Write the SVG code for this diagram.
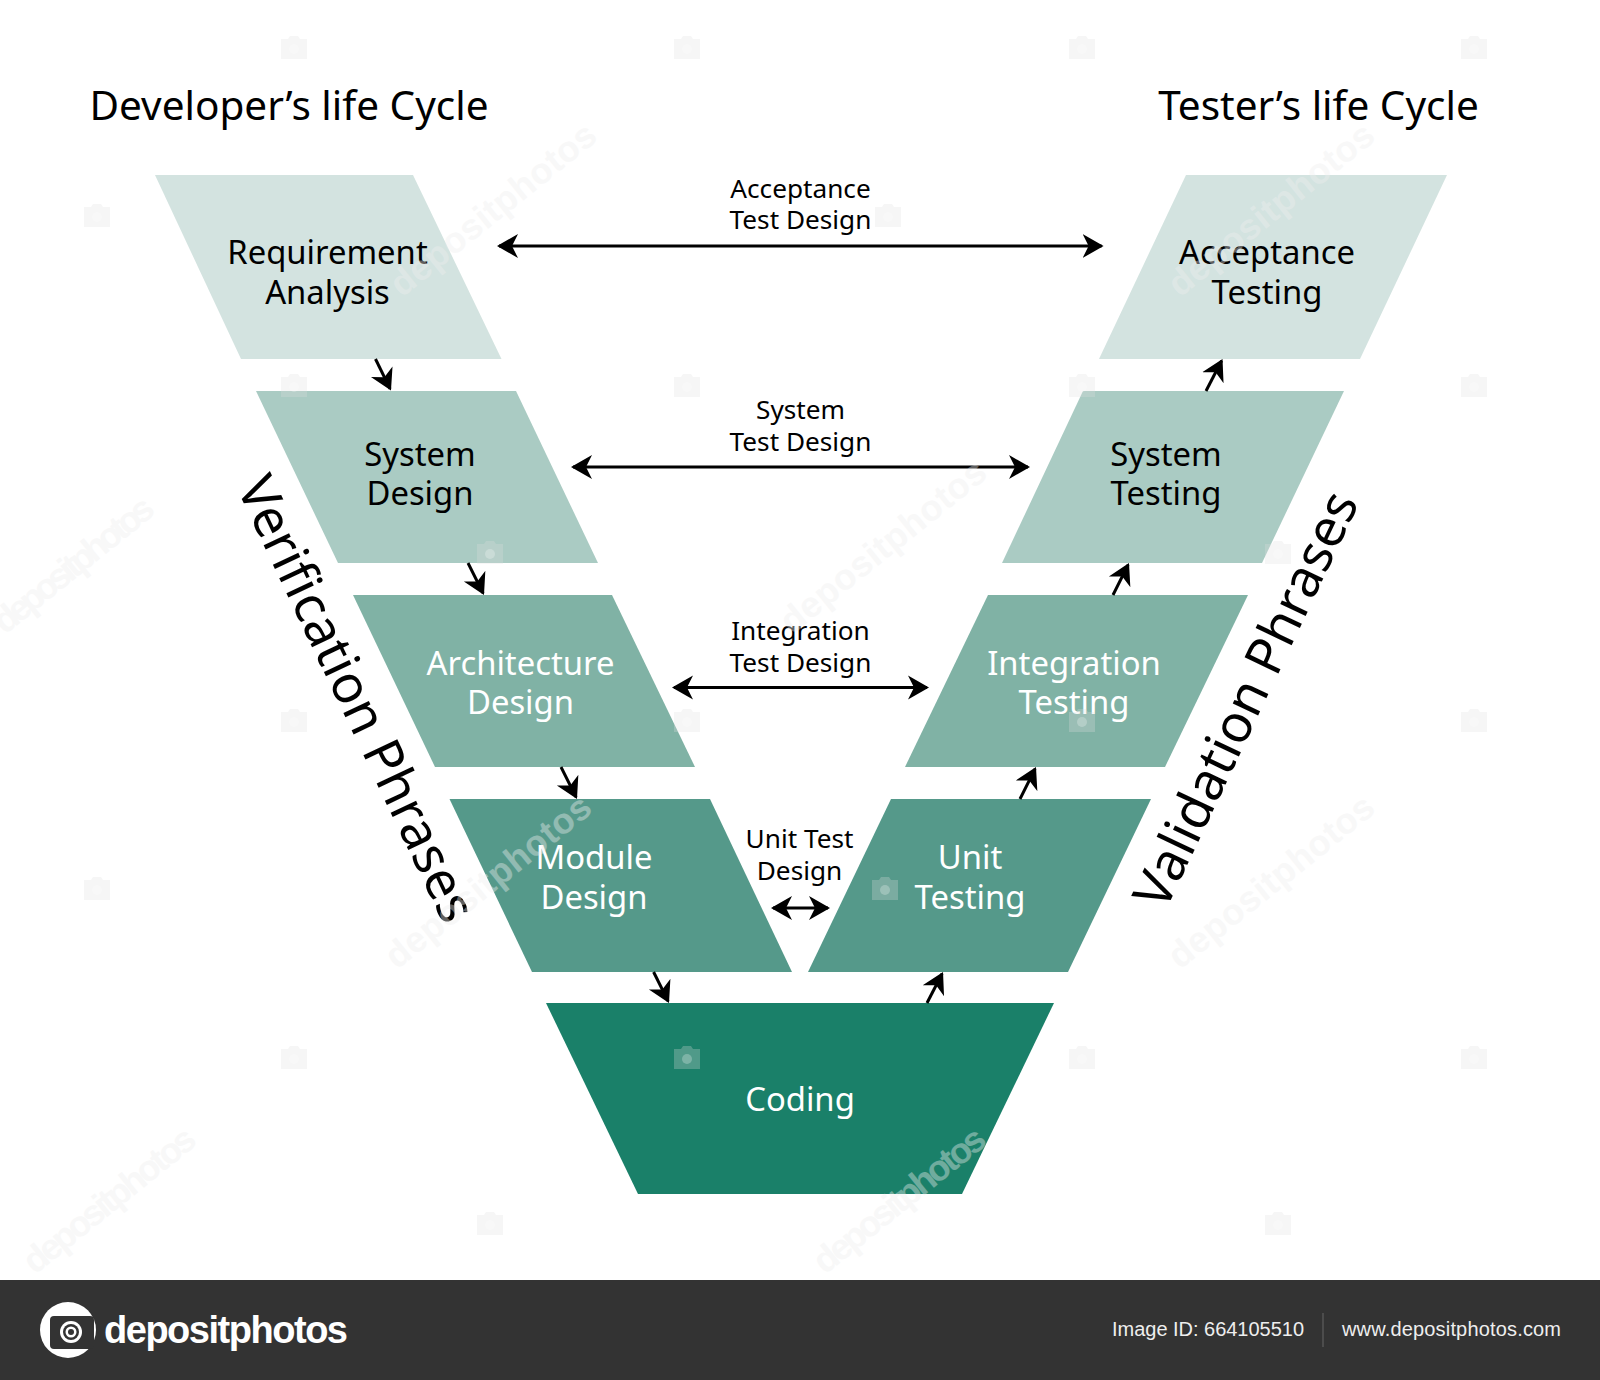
<svg xmlns="http://www.w3.org/2000/svg" xmlns:xlink="http://www.w3.org/1999/xlink" width="1600" height="1380" viewBox="0 0 1600 1380">
<style>
text{font-family:"Noto Sans","DejaVu Sans",sans-serif;text-anchor:middle}
.title{font-size:40.5px;fill:#000}
.lbl{font-size:32.8px}
.d{fill:#000}.w{fill:#fff}
.sub{font-size:26.2px;fill:#000}
.side{font-size:52.5px;fill:#000;text-anchor:start}
.arr{stroke:#000;stroke-width:3;fill:none;marker-end:url(#ah)}
.dbl{marker-start:url(#ah)}
.wm{font-family:"Liberation Sans",sans-serif;font-size:36px;font-weight:700;fill:#eee;opacity:.4;text-anchor:start}
.ban{font-family:"Liberation Sans",sans-serif;font-size:20px;fill:#eee;text-anchor:start}
</style>
<defs>
<marker id="ah" markerUnits="userSpaceOnUse" markerWidth="22" markerHeight="26" viewBox="0 0 22 26" refX="19" refY="13" orient="auto-start-reverse">
<path d="M21,13 L0,1 L6,13 L0,25 Z" fill="#000"/>
</marker>
<g id="cam"><path d="M-13,-10h7l2,-3h8l2,3h7v20h-26z" fill="#ddd" opacity=".28"/><circle r="5" fill="#fff" opacity=".25"/></g>
</defs>
<rect width="1600" height="1380" fill="#fff"/>
<g id="req"><polygon points="155,175 413,175 501.5,359 241,359" fill="#d3e3e0"/><text class="lbl d" x="327.500" y="264">Requirement</text><text class="lbl d" x="327.500" y="303.500">Analysis</text></g>
<g id="sysd"><polygon points="256,391 516,391 598,563 338,563" fill="#aacbc3"/><text class="lbl d" x="420" y="466">System</text><text class="lbl d" x="420" y="505">Design</text></g>
<g id="arch"><polygon points="353,595 612,595 695,767 435,767" fill="#80b2a5"/><text class="lbl w" x="520.500" y="675">Architecture</text><text class="lbl w" x="520.500" y="714">Design</text></g>
<g id="mod"><polygon points="449.500,799 710,799 792,972 532,972" fill="#55998a"/><text class="lbl w" x="594" y="869">Module</text><text class="lbl w" x="594" y="909">Design</text></g>
<g id="coding"><polygon points="546,1003 1054,1003 962,1194 638,1194" fill="#1a8069"/><text class="lbl w" x="800" y="1110.700">Coding</text></g>
<g id="unit"><polygon points="891,799 1151,799 1068,972 808,972" fill="#55998a"/><text class="lbl w" x="970" y="869">Unit</text><text class="lbl w" x="970" y="909">Testing</text></g>
<g id="integ"><polygon points="988,595 1248,595 1165,767 905,767" fill="#80b2a5"/><text class="lbl w" x="1074" y="675">Integration</text><text class="lbl w" x="1074" y="714">Testing</text></g>
<g id="syst"><polygon points="1083,391 1344,391 1262,563 1002,563" fill="#aacbc3"/><text class="lbl d" x="1166" y="466">System</text><text class="lbl d" x="1166" y="505">Testing</text></g>
<g id="acc"><polygon points="1186,175 1447,175 1360,359 1099,359" fill="#d3e3e0"/><text class="lbl d" x="1267" y="264">Acceptance</text><text class="lbl d" x="1267" y="303.500">Testing</text></g>
<g id="connectors">
<path class="arr dbl" d="M499,246H1101.600"/>
<path class="arr dbl" d="M573,467H1028"/>
<path class="arr dbl" d="M674,687.500H927"/>
<path class="arr dbl" d="M773,908H828"/>
<path class="arr" d="M375.500,359L390.100,388.800"/>
<path class="arr" d="M468,563L483.100,593.200"/>
<path class="arr" d="M561,767L576.100,797.200"/>
<path class="arr" d="M653.600,972L668.100,1001.200"/>
<path class="arr" d="M927,1003L942.100,973.800"/>
<path class="arr" d="M1020,799L1035.100,768.800"/>
<path class="arr" d="M1113,595L1128.100,564.800"/>
<path class="arr" d="M1206,391L1221.600,360.800"/>
</g>
<g id="labels">
<text class="title" x="289" y="119.600">Developer’s life Cycle</text>
<text class="title" x="1318.500" y="119.600">Tester’s life Cycle</text>
<text class="sub" x="800.500" y="197.700">Acceptance</text><text class="sub" x="800.500" y="228.800">Test Design</text>
<text class="sub" x="800.500" y="419">System</text><text class="sub" x="800.500" y="451">Test Design</text>
<text class="sub" x="800.500" y="640">Integration</text><text class="sub" x="800.500" y="672">Test Design</text>
<text class="sub" x="799.500" y="847.600">Unit Test</text><text class="sub" x="799.500" y="879.700">Design</text>
<text class="side" transform="translate(236,487) rotate(64.6)">Verification Phrases</text>
<text class="side" transform="translate(1165,912) rotate(-64.6)">Validation Phrases</text>
</g>
<g id="watermark">
<text class="wm" transform="translate(402,298) rotate(-38.8)" textLength="253">depositphotos</text>
<text class="wm" transform="translate(1180,298) rotate(-38.8)" textLength="253">depositphotos</text>
<text class="wm" transform="translate(5,635) rotate(-38.8)" textLength="195">depositphotos</text>
<text class="wm" transform="translate(792,635) rotate(-38.8)" textLength="253">depositphotos</text>
<text class="wm" transform="translate(397,970) rotate(-38.8)" textLength="253">depositphotos</text>
<text class="wm" transform="translate(1180,970) rotate(-38.8)" textLength="253">depositphotos</text>
<text class="wm" transform="translate(35,1275) rotate(-38.8)" textLength="210">depositphotos</text>
<text class="wm" transform="translate(825,1275) rotate(-38.8)" textLength="210">depositphotos</text>
<use href="#cam" x="294" y="49"/><use href="#cam" x="687" y="49"/><use href="#cam" x="1082" y="49"/><use href="#cam" x="1474" y="49"/>
<use href="#cam" x="97" y="217"/><use href="#cam" x="888" y="217"/>
<use href="#cam" x="294" y="387"/><use href="#cam" x="687" y="387"/><use href="#cam" x="1082" y="387"/><use href="#cam" x="1474" y="387"/>
<use href="#cam" x="490" y="554"/><use href="#cam" x="1278" y="554"/>
<use href="#cam" x="294" y="722"/><use href="#cam" x="687" y="722"/><use href="#cam" x="1082" y="722"/><use href="#cam" x="1474" y="722"/>
<use href="#cam" x="97" y="890"/><use href="#cam" x="885" y="890"/>
<use href="#cam" x="294" y="1059"/><use href="#cam" x="687" y="1059"/><use href="#cam" x="1082" y="1059"/><use href="#cam" x="1474" y="1059"/>
<use href="#cam" x="490" y="1225"/><use href="#cam" x="1278" y="1225"/>
</g>
<g id="banner">
<rect y="1280" width="1600" height="100" fill="#333"/>
<circle cx="68" cy="1330" r="28" fill="#fff"/>
<rect x="50" y="1316" width="44" height="33" rx="4" fill="#333"/>
<circle cx="71" cy="1332" r="11" fill="#fff"/><circle cx="71" cy="1332" r="8" fill="#333"/><circle cx="71" cy="1332" r="5.500" fill="#fff"/><circle cx="71" cy="1332" r="3" fill="#333"/>
<text x="104" y="1343" style="font-family:'Liberation Sans',sans-serif;font-weight:700;font-size:38px;fill:#fff;text-anchor:start" textLength="244">depositphotos</text>
<text class="ban" x="1112" y="1336" textLength="192">Image ID: 664105510</text>
<rect x="1322.500" y="1313" width="1" height="34" fill="#666"/>
<text class="ban" x="1342" y="1336" textLength="219">www.depositphotos.com</text>
</g>
</svg>
